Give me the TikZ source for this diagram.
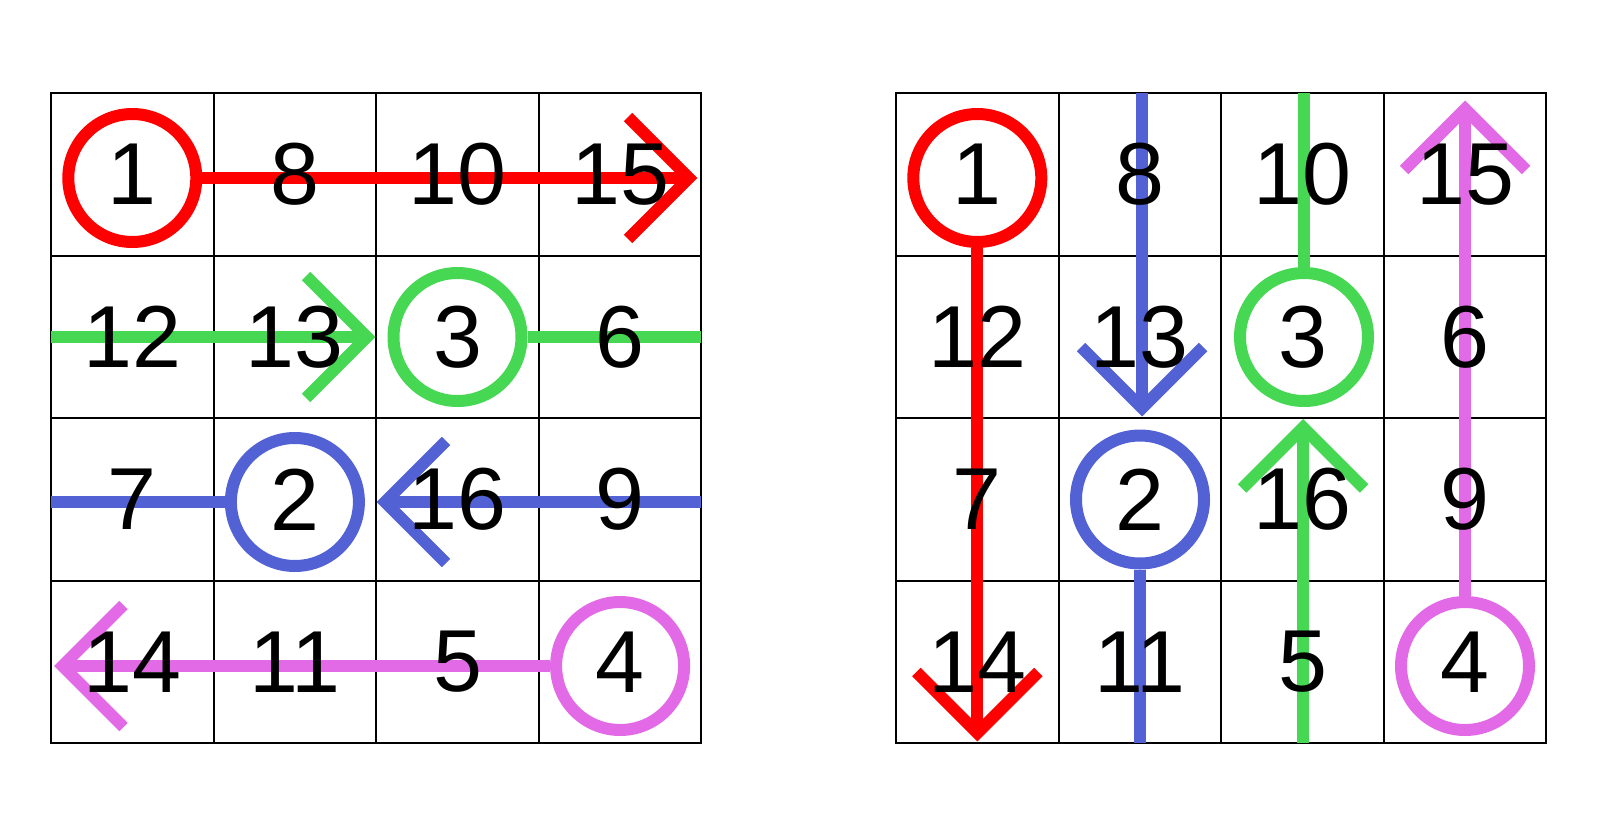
\documentclass[tikz,border=0pt]{standalone}
\usepackage{fontspec}
\setmainfont{Liberation Sans}
\usetikzlibrary{calc}
\definecolor{cred}{HTML}{FF0000}
\definecolor{cgreen}{HTML}{46D853}
\definecolor{cblue}{HTML}{5262D4}
\definecolor{cpink}{HTML}{E36AE6}
\begin{document}
\begin{tikzpicture}[x=1pt,y=-1pt,
  gridline/.style={line width=2pt, black, line cap=rect},
  num/.style={inner sep=0pt, font=\fontsize{88}{88}\selectfont},
  ring/.style={circle, draw=#1, line width=12pt, minimum size=128pt, inner sep=0pt},
  track/.style={draw=#1, line width=12pt, line cap=butt},
  chev/.style={draw=#1, line width=12pt, line join=miter, line cap=butt},
]
\useasboundingbox (0,0) rectangle (1600,837);
% grids
\foreach \i in {0,...,4} {
  \draw[gridline] (51+\i*162.6, 93) -- (51+\i*162.6, 743.4);
  \draw[gridline] (51, 93+\i*162.6) -- (701.4, 93+\i*162.6);
  \draw[gridline] (896+\i*162.6, 93) -- (896+\i*162.6, 743.4);
  \draw[gridline] (896, 93+\i*162.6) -- (1546.4, 93+\i*162.6);
}
% ---------- left grid ----------
\node[ring=cred]   (Lc1) at (132.3,178) {};
\node[ring=cgreen] (Lc3) at (457.5,337) {};
\node[ring=cblue]  (Lc2) at (294.9,502) {};
\node[ring=cpink]  (Lc4) at (620.1,666) {};
\coordinate (Lt1) at (689,178);
\coordinate (Lt3) at (367,337);
\coordinate (Le3r) at (701.4,337);
\coordinate (Le3l) at (51,337);
\coordinate (Lt2) at (385,502);
\coordinate (Le2l) at (51,502);
\coordinate (Le2r) at (701.4,502);
\coordinate (Lt4) at (62.5,666);
% red
\draw[track=cred] (Lc1) -- (Lt1);
\draw[chev=cred] ($(Lt1)+(-61,-61)$) -- (Lt1) -- ($(Lt1)+(-61,61)$);
% green
\draw[track=cgreen] (Lc3) -- (Le3r);
\draw[track=cgreen] (Le3l) -- (Lt3);
\draw[chev=cgreen] ($(Lt3)+(-61,-61)$) -- (Lt3) -- ($(Lt3)+(-61,61)$);
% blue
\draw[track=cblue] (Lc2) -- (Le2l);
\draw[track=cblue] (Le2r) -- (Lt2);
\draw[chev=cblue] ($(Lt2)+(61,-61)$) -- (Lt2) -- ($(Lt2)+(61,61)$);
% pink
\draw[track=cpink] (Lc4) -- (Lt4);
\draw[chev=cpink] ($(Lt4)+(61,-61)$) -- (Lt4) -- ($(Lt4)+(61,61)$);
% ---------- right grid ----------
\node[ring=cred]   (Rc1) at (977.3,178) {};
\node[ring=cgreen] (Rc3) at (1304,337) {};
\node[ring=cblue]  (Rc2) at (1140,499.5) {};
\node[ring=cpink]  (Rc4) at (1465,666) {};
\coordinate (Rt1) at (977.3,733);
\coordinate (Rb2) at (1140,743.4);
\coordinate (Rtop2) at (1142,93);
\coordinate (Rt2) at (1142,408);
\coordinate (Rtop3) at (1304,93);
\coordinate (Rbot3) at (1303,743.4);
\coordinate (Rt3) at (1303,427.5);
\coordinate (Rt4) at (1465,109);
% red
\draw[track=cred] (Rc1) -- (Rt1);
\draw[chev=cred] ($(Rt1)+(-61,-61)$) -- (Rt1) -- ($(Rt1)+(61,-61)$);
% blue
\draw[track=cblue] (Rc2) -- (Rb2);
\draw[track=cblue] (Rtop2) -- (Rt2);
\draw[chev=cblue] ($(Rt2)+(-61,-61)$) -- (Rt2) -- ($(Rt2)+(61,-61)$);
% green
\draw[track=cgreen] (Rc3) -- (Rtop3);
\draw[track=cgreen] (Rbot3) -- (Rt3);
\draw[chev=cgreen] ($(Rt3)+(-61,61)$) -- (Rt3) -- ($(Rt3)+(61,61)$);
% pink
\draw[track=cpink] (Rc4) -- (Rt4);
\draw[chev=cpink] ($(Rt4)+(-61,61)$) -- (Rt4) -- ($(Rt4)+(61,61)$);
% ---------- numbers ----------
\foreach \t/\c/\r in {1/1/1, 8/2/1, 10/3/1, 15/4/1, 12/1/2, 13/2/2, 3/3/2, 6/4/2,
                      7/1/3, 2/2/3, 16/3/3, 9/4/3, 14/1/4, 11/2/4, 5/3/4, 4/4/4} {
  \node[num] (L\t) at (51+\c*162.6-81.3, 93+\r*162.6-81.3) {\t};
  \node[num] (R\t) at (896+\c*162.6-81.3, 93+\r*162.6-81.3) {\t};
}
\end{tikzpicture}
\end{document}
